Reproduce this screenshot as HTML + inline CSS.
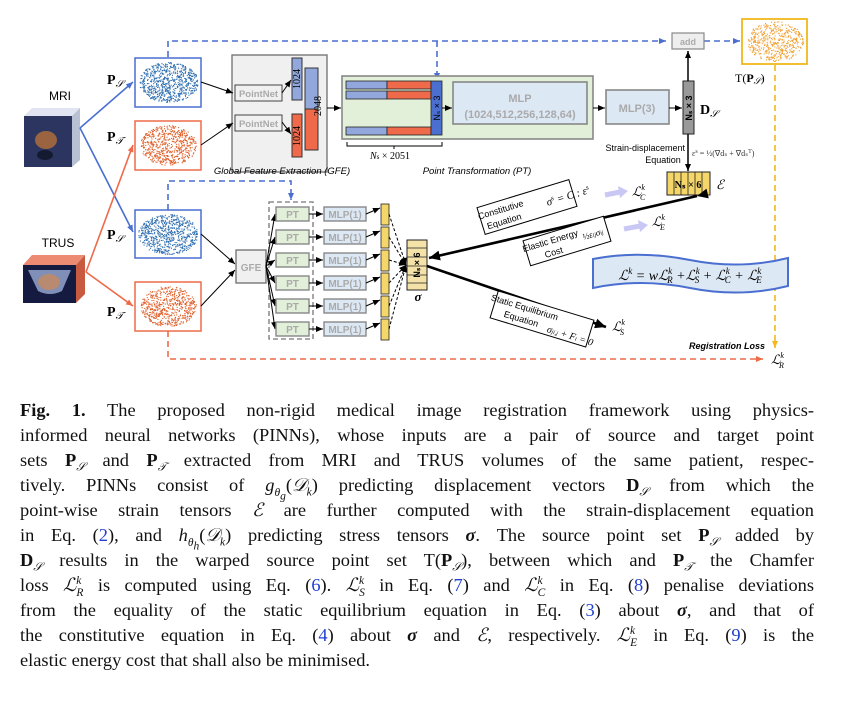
<!DOCTYPE html>
<html><head><meta charset="utf-8"><style>
body{margin:0;background:#fff;width:848px;height:701px;overflow:hidden;position:relative;font-family:"Liberation Sans",sans-serif}
svg{position:absolute;left:0;top:0}
.cap{position:absolute;left:20px;width:794px;font-family:"Liberation Serif",serif;font-size:18.4px;line-height:25px;color:#111}
.cap div{text-align:justify;text-align-last:justify;white-space:nowrap;height:25px}
.cap div.l{text-align-last:left}
i{font-style:italic}
.cap sub,.cap sup{font-size:11.5px;line-height:0}
</style></head><body>
<svg width="848" height="380" viewBox="0 0 848 380" font-family="Liberation Sans, sans-serif">
<defs>
<marker id="ab" markerWidth="8" markerHeight="8" refX="7" refY="4" orient="auto" markerUnits="userSpaceOnUse"><path d="M0,1 L7,4 L0,7z" fill="#000"/></marker>
<marker id="abl" markerWidth="8" markerHeight="8" refX="7" refY="4" orient="auto" markerUnits="userSpaceOnUse"><path d="M0,1 L7,4 L0,7z" fill="#4a6fd0"/></marker>
<marker id="aor" markerWidth="8" markerHeight="8" refX="7" refY="4" orient="auto" markerUnits="userSpaceOnUse"><path d="M0,1 L7,4 L0,7z" fill="#ee6a4a"/></marker>
<marker id="aye" markerWidth="8" markerHeight="8" refX="7" refY="4" orient="auto" markerUnits="userSpaceOnUse"><path d="M0,1 L7,4 L0,7z" fill="#f2b81c"/></marker>
<marker id="abig" markerWidth="12" markerHeight="10" refX="11" refY="5" orient="auto" markerUnits="userSpaceOnUse"><path d="M0,0 L11,5 L0,10z" fill="#000"/></marker>
</defs>
<path d="M168,57 V41 H666" stroke="#4a6fd0" stroke-width="1.6" stroke-dasharray="6,4" fill="none" marker-end="url(#abl)"/>
<path d="M437,41 V80" stroke="#4a6fd0" stroke-width="1.6" stroke-dasharray="6,4" fill="none" marker-end="url(#abl)"/>
<path d="M704,41 H740" stroke="#4a6fd0" stroke-width="1.6" stroke-dasharray="6,4" fill="none" marker-end="url(#abl)"/>
<path d="M775,65 V348" stroke="#f2b81c" stroke-width="1.6" stroke-dasharray="6,4" fill="none" marker-end="url(#aye)"/>
<path d="M168,210 V181 H291 V200" stroke="#4a6fd0" stroke-width="1.6" stroke-dasharray="6,4" fill="none" marker-end="url(#abl)"/>
<path d="M168,331 V359 H763" stroke="#ee6a4a" stroke-width="1.6" stroke-dasharray="6,4" fill="none" marker-end="url(#aor)"/>
<text x="60" y="100" font-size="12" text-anchor="middle">MRI</text>
<polygon points="24,116 32,108 80,108 72,116" fill="#dfe4f0"/>
<polygon points="72,116 80,108 80,160 72,167" fill="#b8c0d4"/>
<rect x="24" y="116" width="48" height="51" fill="#2c3560"/>
<ellipse cx="46" cy="140" rx="11" ry="9" fill="#9a6440"/>
<ellipse cx="45" cy="155" rx="8" ry="5" fill="#141a30"/>
<text x="58" y="247" font-size="12" text-anchor="middle">TRUS</text>
<polygon points="23,265 32,255 85,255 76,265" fill="#ec8a72"/>
<polygon points="76,265 85,255 85,294 76,303" fill="#c85a40"/>
<rect x="23" y="265" width="53" height="38" fill="#141a40"/>
<path d="M28,270 L71,270 L62,291 Q50,297 38,291z" fill="#7f8fb8"/>
<ellipse cx="49" cy="282" rx="11" ry="8" fill="#b88a70"/>
<path d="M80,128 L133,82" stroke="#4a6fd0" stroke-width="1.6" fill="none" marker-end="url(#abl)"/>
<path d="M80,128 L133,232" stroke="#4a6fd0" stroke-width="1.6" fill="none" marker-end="url(#abl)"/>
<path d="M86,272 L133,145" stroke="#ee6a4a" stroke-width="1.6" fill="none" marker-end="url(#aor)"/>
<path d="M86,272 L133,306" stroke="#ee6a4a" stroke-width="1.6" fill="none" marker-end="url(#aor)"/>
<g font-family="Liberation Serif, serif" font-size="14" font-weight="bold">
<text x="107" y="84">P<tspan font-size="10" font-style="italic" font-weight="normal" dy="3">𝒮</tspan></text>
<text x="107" y="141">P<tspan font-size="10" font-style="italic" font-weight="normal" dy="3">𝒯</tspan></text>
<text x="107" y="239">P<tspan font-size="10" font-style="italic" font-weight="normal" dy="3">𝒮</tspan></text>
<text x="107" y="316">P<tspan font-size="10" font-style="italic" font-weight="normal" dy="3">𝒯</tspan></text>
</g>
<rect x="135" y="58" width="66" height="49" fill="#fff" stroke="#4a6fd0" stroke-width="1.5"/>
<rect x="135" y="121" width="66" height="49" fill="#fff" stroke="#ee6a4a" stroke-width="1.5"/>
<rect x="135" y="210" width="66" height="48" fill="#fff" stroke="#4a6fd0" stroke-width="1.5"/>
<rect x="135" y="282" width="66" height="49" fill="#fff" stroke="#ee6a4a" stroke-width="1.5"/>
<rect x="742" y="19" width="65" height="45" fill="#fff" stroke="#f2b81c" stroke-width="1.8"/>
<g id="pc"></g>
<rect x="232" y="55" width="95" height="117" fill="#f0f0f0" stroke="#777" stroke-width="1.4"/>
<path d="M201,82 L233,93" stroke="#000" marker-end="url(#ab)"/>
<path d="M201,145 L233,123" stroke="#000" marker-end="url(#ab)"/>
<rect x="235" y="85" width="47" height="16" fill="#f0f0f0" stroke="#444"/>
<rect x="235" y="115" width="47" height="16" fill="#f0f0f0" stroke="#444"/>
<text x="258.5" y="97" font-size="9.5" font-weight="bold" fill="#aaa" text-anchor="middle">PointNet</text>
<text x="258.5" y="127" font-size="9.5" font-weight="bold" fill="#aaa" text-anchor="middle">PointNet</text>
<path d="M282,93 L291,80" stroke="#000" marker-end="url(#ab)"/>
<path d="M282,122 L291,134" stroke="#000" marker-end="url(#ab)"/>
<rect x="292" y="58" width="10" height="42" fill="#92a8dc" stroke="#333"/>
<rect x="292" y="114" width="10" height="43" fill="#ee6a4a" stroke="#333"/>
<rect x="305" y="68" width="13" height="41" fill="#92a8dc" stroke="#333"/>
<rect x="305" y="109" width="13" height="41" fill="#ee6a4a" stroke="#333"/>
<g font-family="Liberation Serif, serif" font-size="10">
<text transform="translate(300,79) rotate(-90)" text-anchor="middle">1024</text>
<text transform="translate(300,136) rotate(-90)" text-anchor="middle">1024</text>
<text transform="translate(321,106) rotate(-90)" text-anchor="middle">2048</text>
</g>
<text x="282" y="174" font-size="9.5" font-style="italic" text-anchor="middle">Global Feature Extraction (GFE)</text>
<path d="M327,108 L341,108" stroke="#000" marker-end="url(#ab)"/>
<rect x="342" y="76" width="251" height="63" fill="#e2efd9" stroke="#888" stroke-width="1.6"/>
<g stroke="#222" stroke-width="0.8">
<rect x="346" y="81" width="41" height="8" fill="#92a8dc"/><rect x="387" y="81" width="44" height="8" fill="#ee6a4a"/>
<rect x="346" y="91" width="41" height="8" fill="#92a8dc"/><rect x="387" y="91" width="44" height="8" fill="#ee6a4a"/>
<rect x="346" y="127" width="41" height="8" fill="#92a8dc"/><rect x="387" y="127" width="44" height="8" fill="#ee6a4a"/>
<rect x="431" y="81" width="11" height="54" fill="#4a6fd0"/>
</g>
<text transform="translate(440,108) rotate(-90)" font-size="9" text-anchor="middle">Nₛ × 3</text>
<path d="M442,108 L452,108" stroke="#000" marker-end="url(#ab)"/>
<rect x="453" y="82" width="134" height="42" fill="#dde8f5" stroke="#888" stroke-width="1.6"/>
<text x="520" y="102" font-size="11" font-weight="bold" fill="#aaa" text-anchor="middle">MLP</text>
<text x="520" y="118" font-size="11" font-weight="bold" fill="#aaa" text-anchor="middle">(1024,512,256,128,64)</text>
<path d="M347,142 V146 H442 V142 M394,146 V149" stroke="#000" fill="none"/>
<text x="390" y="159" font-size="10" font-family="Liberation Serif, serif" text-anchor="middle"><tspan font-style="italic">N</tspan><tspan font-size="7">s</tspan> × 2051</text>
<text x="477" y="174" font-size="9.5" font-style="italic" text-anchor="middle">Point Transformation (PT)</text>
<path d="M593,108 L605,108" stroke="#000" marker-end="url(#ab)"/>
<rect x="606" y="90" width="63" height="34" fill="#dde8f5" stroke="#888" stroke-width="1.6"/>
<text x="637" y="112" font-size="11" font-weight="bold" fill="#aaa" text-anchor="middle">MLP(3)</text>
<path d="M669,108 L682,108" stroke="#000" marker-end="url(#ab)"/>
<rect x="683" y="81" width="11" height="53" fill="#999" stroke="#222"/>
<text transform="translate(692,108) rotate(-90)" font-size="9" font-weight="bold" text-anchor="middle">Nₛ × 3</text>
<text x="700" y="114" font-size="14" font-family="Liberation Serif, serif" font-weight="bold">D<tspan font-size="10" font-style="italic" font-weight="normal" dy="3">𝒮</tspan></text>
<path d="M688,81 V51" stroke="#000" stroke-width="1.5" marker-end="url(#ab)"/>
<path d="M688,134 V171" stroke="#000" stroke-width="1.5" marker-end="url(#ab)"/>
<rect x="672" y="33" width="32" height="16" fill="#eee" stroke="#888" stroke-width="1.2"/>
<text x="688" y="45" font-size="9" font-weight="bold" fill="#aaa" text-anchor="middle">add</text>
<text x="735" y="82" font-size="12" font-family="Liberation Serif, serif">T(<tspan font-weight="bold">P</tspan><tspan font-size="9" font-style="italic" dy="2">𝒮</tspan><tspan dy="-2">)</tspan></text>
<text x="685" y="151" font-size="9" text-anchor="end">Strain-displacement</text>
<text x="663" y="163" font-size="9" text-anchor="middle">Equation</text>
<text x="692" y="156" font-size="8" font-family="Liberation Serif, serif" fill="#333">ε<tspan font-size="6" dy="-3">s</tspan><tspan dy="3"> = ½(∇dₛ + ∇dₛ</tspan><tspan font-size="6" dy="-3">T</tspan><tspan dy="3">)</tspan></text>
<rect x="667" y="172" width="43" height="23" fill="#f5d66a" stroke="#222"/>
<path d="M674,172V195M681,172V195M688,172V195M695,172V195M702,172V195" stroke="#222" stroke-width="0.8"/>
<text x="688" y="188" font-size="10" font-weight="bold" text-anchor="middle" font-family="Liberation Serif, serif">Nₛ × 6</text>
<text x="716" y="189" font-size="13" font-style="italic" font-family="Liberation Serif, serif">ℰ</text>
<path d="M201,234 L235,264" stroke="#000" marker-end="url(#ab)"/>
<path d="M201,306 L235,270" stroke="#000" marker-end="url(#ab)"/>
<rect x="236" y="250" width="30" height="33" fill="#f0f0f0" stroke="#777" stroke-width="1.4"/>
<text x="251" y="271" font-size="10" font-weight="bold" fill="#aaa" text-anchor="middle">GFE</text>
<rect x="269" y="202" width="44" height="137" fill="none" stroke="#777" stroke-width="1.3" stroke-dasharray="5,3"/>
<g id="rows"></g>
<rect x="407" y="240" width="20" height="50" fill="#f5e2a8" stroke="#222"/>
<path d="M407,248H427M407,257H427M407,266H427M407,275H427M407,283H427" stroke="#222" stroke-width="0.8"/>
<text transform="translate(420,265) rotate(-90)" font-size="9" font-weight="bold" text-anchor="middle">Nₛ × 6</text>
<text x="418" y="301" font-size="13" font-weight="bold" font-style="italic" font-family="Liberation Serif, serif" text-anchor="middle">σ</text>
<path d="M697,196 L429,258" stroke="#000" stroke-width="2.6" marker-end="url(#abig)" marker-start="url(#abig)"/>
<path d="M427,266 L606,327" stroke="#000" stroke-width="2.6" marker-end="url(#abig)"/>
<g transform="translate(527,207) rotate(-17)">
<rect x="-48" y="-14" width="96" height="28" fill="#fff" stroke="#000"/>
<text x="-26" y="-2" font-size="9" text-anchor="middle">Constitutive</text>
<text x="-26" y="10" font-size="9" text-anchor="middle">Equation</text>
<text x="20" y="5" font-size="11" font-family="Liberation Serif, serif" font-style="italic">σ<tspan font-size="7" dy="-4">s</tspan><tspan dy="4"> = C : ε</tspan><tspan font-size="7" dy="-4">s</tspan></text>
</g>
<g transform="translate(567,241) rotate(-17)">
<rect x="-42" y="-13" width="84" height="26" fill="#fff" stroke="#000"/>
<text x="-16" y="-2" font-size="9" text-anchor="middle">Elastic Energy</text>
<text x="-16" y="10" font-size="9" text-anchor="middle">Cost</text>
<text x="16" y="4" font-size="9" font-family="Liberation Serif, serif" font-style="italic">½ε<tspan font-size="6">ij</tspan>σ<tspan font-size="6">ij</tspan></text>
</g>
<g transform="translate(542,319) rotate(17)">
<rect x="-50" y="-14" width="100" height="28" fill="#fff" stroke="#000"/>
<text x="-20" y="-3" font-size="9" text-anchor="middle">Static Equilibrium</text>
<text x="-20" y="9" font-size="9" text-anchor="middle">Equation</text>
<text x="8" y="11" font-size="10" font-family="Liberation Serif, serif" font-style="italic">σ<tspan font-size="6">ji,j</tspan> + F<tspan font-size="6">i</tspan> = 0</text>
</g>
<path d="M605,195 L620,192" stroke="#c9c8f5" stroke-width="5" fill="none"/><path d="M618,186 L628,191 L620,198z" fill="#c9c8f5"/>
<path d="M624,229 L640,226" stroke="#c9c8f5" stroke-width="5" fill="none"/><path d="M638,220 L648,225 L640,232z" fill="#c9c8f5"/>
<g font-family="Liberation Serif, serif" font-style="italic" font-size="13">
<text x="632" y="196">ℒ<tspan font-size="8" dy="-6">k</tspan><tspan font-size="8" dx="-5" dy="10">C</tspan></text>
<text x="652" y="226">ℒ<tspan font-size="8" dy="-6">k</tspan><tspan font-size="8" dx="-5" dy="10">E</tspan></text>
<text x="612" y="331">ℒ<tspan font-size="8" dy="-6">k</tspan><tspan font-size="8" dx="-5" dy="10">S</tspan></text>
<text x="771" y="364">ℒ<tspan font-size="8" dy="-6">k</tspan><tspan font-size="8" dx="-5" dy="10">R</tspan></text>
</g>
<path d="M593,259 Q640,250 690,260 Q740,270 788,258 V286 Q740,298 690,288 Q640,278 593,288z" fill="#dde8f5" stroke="#4a6fd0" stroke-width="2"/>
<text x="690" y="280" font-size="14" font-family="Liberation Serif, serif" font-style="italic" text-anchor="middle">ℒ<tspan font-size="9" dy="-6">k</tspan><tspan dy="6"> = wℒ</tspan><tspan font-size="9" dy="-6">k</tspan><tspan font-size="9" dx="-5" dy="9">R</tspan><tspan dy="-3"> +ℒ</tspan><tspan font-size="9" dy="-6">k</tspan><tspan font-size="9" dx="-5" dy="9">S</tspan><tspan dy="-3"> + ℒ</tspan><tspan font-size="9" dy="-6">k</tspan><tspan font-size="9" dx="-5" dy="9">C</tspan><tspan dy="-3"> + ℒ</tspan><tspan font-size="9" dy="-6">k</tspan><tspan font-size="9" dx="-5" dy="9">E</tspan></text>
<text x="765" y="349" font-size="9" font-weight="bold" font-style="italic" text-anchor="end">Registration Loss</text>
</svg>
<div class="cap" style="top:398px">
<div><b>Fig. 1.</b> The proposed non-rigid medical image registration framework using physics-</div>
<div>informed neural networks (PINNs), whose inputs are a pair of source and target point</div>
<div>sets <b>P</b><sub><i>𝒮</i></sub> and <b>P</b><sub><i>𝒯</i></sub> extracted from MRI and TRUS volumes of the same patient, respec-</div>
<div>tively. PINNs consist of <i>g</i><sub><i>θ<sub>g</sub></i></sub>(<i>𝒟<sub>k</sub></i>) predicting displacement vectors <b>D</b><sub><i>𝒮</i></sub> from which the</div>
<div>point-wise strain tensors <i>ℰ</i> are further computed with the strain-displacement equation</div>
<div>in Eq. (<span style="color:#2040d0">2</span>), and <i>h</i><sub><i>θ<sub>h</sub></i></sub>(<i>𝒟<sub>k</sub></i>) predicting stress tensors <b><i>σ</i></b>. The source point set <b>P</b><sub><i>𝒮</i></sub> added by</div>
<div><b>D</b><sub><i>𝒮</i></sub> results in the warped source point set T(<b>P</b><sub><i>𝒮</i></sub>), between which and <b>P</b><sub><i>𝒯</i></sub> the Chamfer</div>
<div>loss <i>ℒ</i><sup><i>k</i></sup><sub style="margin-left:-5px"><i>R</i></sub> is computed using Eq. (<span style="color:#2040d0">6</span>). <i>ℒ</i><sup><i>k</i></sup><sub style="margin-left:-5px"><i>S</i></sub> in Eq. (<span style="color:#2040d0">7</span>) and <i>ℒ</i><sup><i>k</i></sup><sub style="margin-left:-5px"><i>C</i></sub> in Eq. (<span style="color:#2040d0">8</span>) penalise deviations</div>
<div>from the equality of the static equilibrium equation in Eq. (<span style="color:#2040d0">3</span>) about <b><i>σ</i></b>, and that of</div>
<div>the constitutive equation in Eq. (<span style="color:#2040d0">4</span>) about <b><i>σ</i></b> and <i>ℰ</i>, respectively. <i>ℒ</i><sup><i>k</i></sup><sub style="margin-left:-5px"><i>E</i></sub> in Eq. (<span style="color:#2040d0">9</span>) is the</div>
<div class="l">elastic energy cost that shall also be minimised.</div>
</div>
<script>
(function(){
var NS="http://www.w3.org/2000/svg";
var s=12345;function r(){s=(s*16807)%2147483647;return s/2147483647;}
var pc=document.getElementById("pc");
function cloud(cx,cy,rx,ry,col,n){for(var i=0;i<n;i++){var a=r()*6.283,d=Math.sqrt(r());var c=document.createElementNS(NS,"rect");c.setAttribute("x",(cx+Math.cos(a)*d*rx).toFixed(1));c.setAttribute("y",(cy+Math.sin(a)*d*ry).toFixed(1));c.setAttribute("width",1.1);c.setAttribute("height",1.1);c.setAttribute("fill",col);pc.appendChild(c);}}
cloud(168,82,30,20,"#2f6fb0",700);cloud(168,145,28,20,"#e0602a",600);
cloud(168,234,30,20,"#2f6fb0",700);cloud(168,306,28,20,"#e0602a",600);
cloud(775,41,28,20,"#f0a030",500);
var rows=document.getElementById("rows");var ys=[214,237,260,283,306,329];
var h="";ys.forEach(function(y){
h+='<path d="M266,266 L275,'+y+'" stroke="#000" marker-end="url(#ab)"/>';
h+='<rect x="276" y="'+(y-7)+'" width="33" height="14" fill="#e2efd9" stroke="#888" stroke-width="1.4"/><text x="292.5" y="'+(y+4)+'" font-size="10" font-weight="bold" fill="#aaa" text-anchor="middle">PT</text>';
h+='<path d="M309,'+y+' L323,'+y+'" stroke="#000" marker-end="url(#ab)"/>';
h+='<rect x="324" y="'+(y-7)+'" width="42" height="14" fill="#dde8f5" stroke="#888" stroke-width="1.4"/><text x="345" y="'+(y+4)+'" font-size="10" font-weight="bold" fill="#aaa" text-anchor="middle">MLP(1)</text>';
h+='<path d="M366,'+y+' L380,'+(y-6)+'" stroke="#000" marker-end="url(#ab)"/>';
h+='<rect x="381" y="'+(y-10)+'" width="8" height="21" fill="#f5d66a" stroke="#222" stroke-width="0.8"/>';
h+='<path d="M389,'+y+' L406,265" stroke="#000" stroke-dasharray="3,2" marker-end="url(#ab)"/>';
});
rows.innerHTML=h;
})();
</script>
</body></html>
